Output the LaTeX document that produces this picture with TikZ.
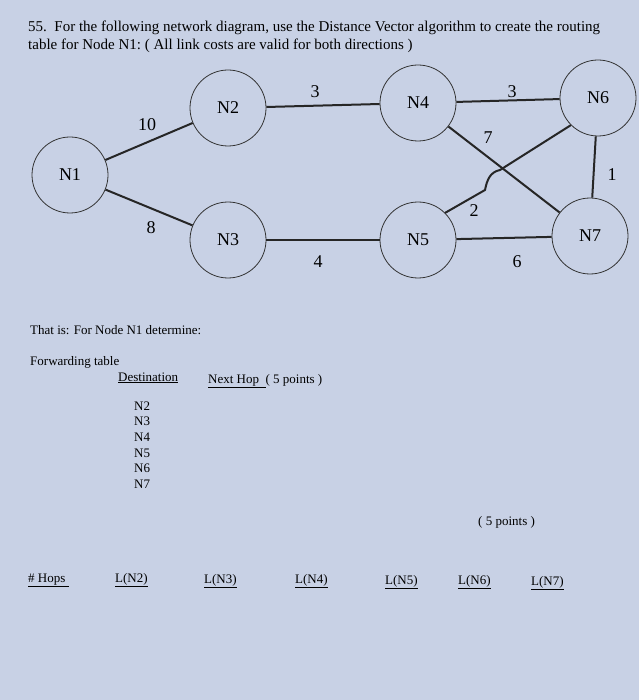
\documentclass[tikz,border=0pt]{standalone}
\usepackage{fontspec}
\setmainfont{Liberation Serif}
\begin{document}
\begin{tikzpicture}[x=1pt,y=-1pt,
 nd/.style={circle,draw=black!80,line width=0.8pt,minimum size=76pt,inner sep=0pt,font=\fontsize{18}{18}\selectfont},
 ln/.style={line width=2pt,draw=black!85},
 lb/.style={font=\fontsize{18}{18}\selectfont},
 tx/.style={anchor=base west,font=\fontsize{13}{13}\selectfont,inner sep=0pt},
 tt/.style={anchor=base west,font=\fontsize{15}{15}\selectfont,inner sep=0pt}]
\fill[fill={rgb,255:red,200;green,209;blue,229}] (0,0) rectangle (639,700);
\useasboundingbox (0,0) rectangle (639,700);
\node[tt] (t1) at (28,32) {55.\ \ For the following network diagram, use the Distance Vector algorithm to create the routing};
\node[tt] (t2) at (28,50) {table for Node N1:\ ( All link costs are valid for both directions )};
\node[nd] (N1) at (70,175) {N1};
\node[nd] (N2) at (228,108) {N2};
\node[nd] (N3) at (228,240) {N3};
\node[nd] (N4) at (418,103) {N4};
\node[nd] (N5) at (418,240) {N5};
\node[nd] (N6) at (598,98) {N6};
\node[nd] (N7) at (590,236) {N7};
\draw[ln] (N1) -- (N2);
\draw[ln] (N1) -- (N3);
\draw[ln] (N2) -- (N4);
\draw[ln] (N3) -- (N5);
\draw[ln] (N4) -- (N6);
\draw[ln] (N5) -- (N7);
\draw[ln] (N6) -- (N7);
\draw[ln] (N4) -- (N7);
\draw[ln] (N5.45) -- (485,190) .. controls (487,180) and (490,172) .. (500,170) -- (N6.225);
\node[lb] (l1) at (315,92) {3};
\node[lb] (l2) at (512,92) {3};
\node[lb] (l3) at (147,125) {10};
\node[lb] (l4) at (151,228) {8};
\node[lb] (l5) at (318,262) {4};
\node[lb] (l6) at (488,138) {7};
\node[lb] (l7) at (474,211) {2};
\node[lb] (l8) at (517,262) {6};
\node[lb] (l9) at (612,175) {1};
\node[tx] (a) at (30,334) {That is: For Node N1 determine:};
\node[tx] (b) at (30,365) {Forwarding table};
\node[tx] (c) at (118,381) {\underline{Destination}};
\node[tx] (d) at (208,383) {\underline{Next Hop\ \ }( 5 points )};
\node[tx] (e2) at (134,410) {N2};
\node[tx] (e3) at (134,425) {N3};
\node[tx] (e4) at (134,441) {N4};
\node[tx] (e5) at (134,457) {N5};
\node[tx] (e6) at (134,472) {N6};
\node[tx] (e7) at (134,488) {N7};
\node[tx] (p) at (478,525) {( 5 points )};
\node[tx] (h0) at (28,582) {\underline{\# Hops\ }};
\node[tx] (h1) at (115,582) {\underline{L(N2)}};
\node[tx] (h2) at (204,583) {\underline{L(N3)}};
\node[tx] (h3) at (295,583) {\underline{L(N4)}};
\node[tx] (h4) at (385,584) {\underline{L(N5)}};
\node[tx] (h5) at (458,584) {\underline{L(N6)}};
\node[tx] (h6) at (531,585) {\underline{L(N7)}};
\end{tikzpicture}
\end{document}
